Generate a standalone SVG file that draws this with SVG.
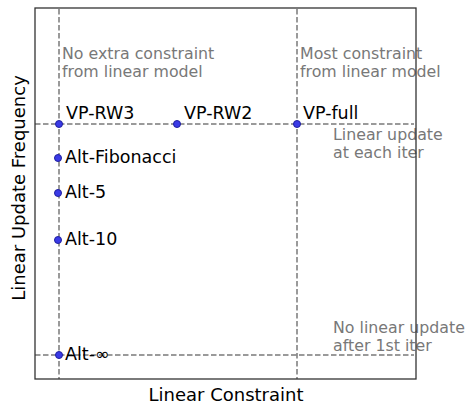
<svg xmlns="http://www.w3.org/2000/svg" width="474" height="414" viewBox="0 0 474 414">
<style>
.dash{stroke:#7a7a7a;stroke-width:1.5;stroke-dasharray:5.5,2.5;fill:none}
.frame{fill:none;stroke:#333;stroke-width:1.3}
.pt{fill:#3a3ae6;stroke:#2020a0;stroke-width:1}
.lbl{font-family:"DejaVu Sans",sans-serif;font-size:17.5px;fill:#000}
.note{font-family:"DejaVu Sans",sans-serif;font-size:15.8px;fill:#787878}
.axis{font-family:"DejaVu Sans",sans-serif;font-size:18px;fill:#000}
</style>
<rect width="474" height="414" fill="#fff"/>
<g id="connectors">
<line class="dash" x1="59" y1="9" x2="59" y2="379"/>
<line class="dash" x1="297" y1="9" x2="297" y2="379"/>
<line class="dash" x1="35" y1="124" x2="414" y2="124"/>
<line class="dash" x1="35" y1="355" x2="414" y2="355"/>
</g>
<g id="notes">
<text class="note" x="62" y="59">No extra constraint</text>
<text class="note" x="62" y="77">from linear model</text>
<text class="note" x="300" y="59">Most constraint</text>
<text class="note" x="300" y="77">from linear model</text>
<text class="note" x="333" y="140">Linear update</text>
<text class="note" x="333" y="158">at each iter</text>
<text class="note" x="333" y="333">No linear update</text>
<text class="note" x="333" y="351">after 1st iter</text>
</g>
<rect class="frame" x="35" y="8" width="381" height="371"/>
<g id="vp-rw3"><circle class="pt" cx="59" cy="124" r="3.5"/><text class="lbl" x="66" y="119">VP-RW3</text></g>
<g id="vp-rw2"><circle class="pt" cx="177" cy="124" r="3.5"/><text class="lbl" x="184" y="119">VP-RW2</text></g>
<g id="vp-full"><circle class="pt" cx="297" cy="124" r="3.5"/><text class="lbl" x="303" y="119">VP-full</text></g>
<g id="alt-fib"><circle class="pt" cx="58" cy="158" r="3.5"/><text class="lbl" x="65" y="163">Alt-Fibonacci</text></g>
<g id="alt-5"><circle class="pt" cx="58" cy="193" r="3.5"/><text class="lbl" x="65" y="198">Alt-5</text></g>
<g id="alt-10"><circle class="pt" cx="58" cy="240" r="3.5"/><text class="lbl" x="65" y="245">Alt-10</text></g>
<g id="alt-inf"><circle class="pt" cx="59" cy="355" r="3.5"/><text class="lbl" x="65" y="360">Alt-∞</text></g>
<text class="axis" x="226" y="401" text-anchor="middle">Linear Constraint</text>
<text class="axis" transform="translate(24.5,188) rotate(-90)" text-anchor="middle">Linear Update Frequency</text>
</svg>
